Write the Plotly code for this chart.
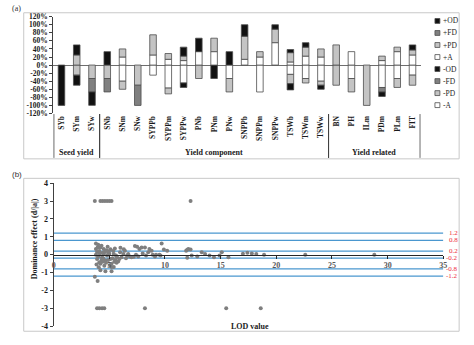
import plotly.graph_objects as go

# ---------------- data: panel (a) gene-action share per trait (%) ----------------
categories = ["SYb", "SYm", "SYw", "SNb", "SNm", "SNw", "SYPPb", "SYPPm", "SYPPw",
              "PNb", "PNm", "PNw", "SNPPb", "SNPPm", "SNPPw", "TSWb", "TSWm", "TSWw",
              "BN", "PH", "ILm", "PDm", "PLm", "FIT"]

pos_A = [0, 0, 0, 0, 20, 0, 25, 14.3, 11.1, 33.3, 33.3, 0, 14.3, 20, 55.6, 7.7, 22.2, 20,
         0, 33.3, 0, 11.1, 33.3, 25]
pos_PD = [0, 25, 0, 0, 20, 0, 50, 14.3, 11.1, 0, 33.3, 0, 57.1, 13.3, 33.3, 23.1, 22.2, 20,
          50, 0, 0, 11.1, 11.1, 12.5]
pos_FD = [0] * 24
pos_OD = [0, 25, 0, 33.3, 0, 0, 0, 0, 22.2, 33.3, 0, 33.3, 28.6, 0, 11.1, 7.7, 11.1, 0,
          0, 0, 0, 0, 0, 12.5]
neg_A = [0, 0, 0, 0, -40, 0, -25, -57.1, -44.4, 0, 0, -33.3, 0, -66.7, 0, -23.1, -33.3, -40,
         0, -33.3, 0, -55.6, -33.3, -25]
neg_PD = [0, -25, -33.3, -33.3, -20, -50, 0, -14.3, 0, -33.3, 0, -33.3, 0, 0, 0, -23.1, -11.1, -10,
          -50, -33.3, -100, 0, -22.2, -25]
neg_FD = [0, 0, -33.3, -33.3, 0, -50, 0, 0, 0, 0, 0, 0, 0, 0, 0, 0, 0, 0,
          0, 0, 0, -11.1, 0, 0]
neg_OD = [-100, -25, -33.3, 0, 0, 0, 0, 0, -11.1, 0, -33.3, 0, 0, 0, 0, -15.4, 0, -10,
          0, 0, 0, -11.1, 0, 0]

groups = ["Seed yield", "Yield component", "Yield related"]
group_bounds = [(-0.5, 2.5), (2.5, 17.5), (17.5, 23.5)]
pct_ticks = [120, 100, 80, 60, 40, 20, 0, -20, -40, -60, -80, -100, -120]

# ---------------- data: panel (b) dominance effect vs LOD ----------------
lod = [3.7, 4.2, 4.4, 4.6, 4.8, 5.0, 5.2, 12.3,
       3.9, 4.1, 4.35, 4.55, 8.2, 15.5, 18.6,
       3.7, 3.95,
       3.8, 4.0, 3.8, 4.2, 4.5, 4.85, 3.8, 3.9, 4.1, 4.2, 4.35, 4.5, 4.65, 4.8, 4.95, 5.1,
       5.2, 5.4, 5.5, 5.7, 5.8, 4.2, 4.65, 5.2, 5.2, 5.4, 5.97, 6.1, 6.26, 6.4, 6.3, 6.6,
       6.7, 6.85, 7.0,
       3.9, 4.0, 4.1, 4.3, 4.4, 4.45, 4.6, 4.7, 4.75, 4.9, 5.0, 5.05, 5.3, 5.35, 5.6, 5.65,
       5.9, 6.0, 4.3, 4.55, 3.85, 4.05, 5.55, 6.5, 4.15, 4.9, 5.1, 5.45, 4.4, 3.95,
       7.3, 7.5, 7.7, 7.9, 8.0, 8.2, 7.4, 7.6, 8.5, 8.6, 8.8, 8.9, 9.1, 9.2, 9.5, 9.7, 9.6,
       9.9, 10.2, 7.2, 8.3,
       11.9, 12.0, 12.1, 12.3, 12.0, 12.4, 12.9, 13.3, 13.6, 14.0, 14.4, 14.9, 15.1, 15.7,
       17.0, 17.4, 17.8, 18.2, 18.9, 22.6, 28.8]
dom = [3, 3, 3, 3, 3, 3, 3, 3,
       -3, -3, -3, -3, -3, -3, -3,
       -1.24, -1.47,
       0.62, 0.55, 0.31, 0.40, 0.31, 0.44, 0.0, -0.24, -0.42, -0.51, -0.15, 0.04, -0.33, -0.05,
       0.18, -0.24, -0.51, 0.04, 0.35, -0.15, -0.38, -0.87, -0.93, -0.93, -0.69, -0.69, 0.13,
       -0.15, 0.04, 0.22, 0.30, -0.05, 0.04, -0.10, -0.15,
       0.15, -0.10, 0.20, -0.30, 0.10, -0.20, 0.15, -0.45, 0.25, -0.30, 0.05, -0.60, -0.20,
       0.20, -0.05, -0.45, -0.25, 0.38, 0.50, -0.62, -0.55, -0.70, -0.30, -0.20, 0.05, 0.10,
       0.30, -0.40, -0.40, 0.40,
       0.49, 0.44, 0.31, 0.40, 0.07, 0.40, 0.0, -0.10, 0.13, 0.31, 0.22, 0.0, -0.10, 0.0, 0.0,
       0.62, -0.05, 0.29, 0.22, -0.12, -0.05,
       0.22, 0.27, 0.31, 0.29, -0.18, -0.05, -0.10, 0.13, 0.04, -0.05, -0.15, -0.05, 0.13, -0.15,
       0.05, 0.10, 0.06, 0.04, 0.0, 0.0, 0.0]
thresholds = [1.2, 0.8, 0.2, -0.2, -0.8, -1.2]
dom_ticks = [4, 3, 2, 1, 0, -1, -2, -3, -4]
lod_ticks = [0, 5, 10, 15, 20, 25, 30, 35]

# ---------------- styling ----------------
W, H = 474, 345
SERIF = "Liberation Serif"
SANS = "Liberation Sans"
BLACK, DARK, LIGHT, WHITE = "#111111", "#808080", "#c4c4c4", "#ffffff"
OUTLINE = "#4d4d4d"
BLUE = "#4a97cf"
RED = "#ee2a3c"


def px(x):
    return x / W


def py(y):
    return 1 - y / H


fig = go.Figure()

# stacked bars: negatives grow down from zero, positives grow up
series = [("-A", neg_A, WHITE), ("-PD", neg_PD, LIGHT), ("-FD", neg_FD, DARK), ("-OD", neg_OD, BLACK),
          ("+A", pos_A, WHITE), ("+PD", pos_PD, LIGHT), ("+FD", pos_FD, DARK), ("+OD", pos_OD, BLACK)]
for name, vals, color in series:
    fig.add_trace(go.Bar(
        x=categories, y=[v if v != 0 else None for v in vals], name=name,
        marker=dict(color=color, line=dict(color=OUTLINE, width=0.8)),
        width=0.43, xaxis="x", yaxis="y", showlegend=False))

fig.add_trace(go.Scatter(
    x=lod, y=dom, mode="markers", xaxis="x2", yaxis="y2", showlegend=False,
    marker=dict(size=4, color="#7f7f7f", line=dict(width=0))))

shapes = []
annotations = []

# panel frames
shapes.append(dict(type="rect", xref="paper", yref="paper", x0=px(22), x1=px(463), y0=py(159), y1=py(9),
                   line=dict(color="#c8c8c8", width=1)))
shapes.append(dict(type="rect", xref="paper", yref="paper", x0=px(22), x1=px(463), y0=py(336), y1=py(179),
                   line=dict(color="#c8c8c8", width=1)))

# group separators and names under the category labels
for i, (g, (a, b)) in enumerate(zip(groups, group_bounds)):
    for xv in (a, b):
        shapes.append(dict(type="line", xref="x", yref="paper", x0=xv, x1=xv, y0=py(158), y1=py(113),
                           line=dict(color="#404040", width=1)))
    annotations.append(dict(x=(a + b) / 2, y=py(152), xref="x", yref="paper", text=g, showarrow=False,
                            font=dict(family=SERIF, size=8, color="#1a1a1a", weight="bold"),
                            xanchor="center", yanchor="middle"))

# legend for the gene-action classes
legend_items = [("+OD", BLACK), ("+FD", DARK), ("+PD", LIGHT), ("+A", WHITE),
                ("-OD", BLACK), ("-FD", DARK), ("-PD", LIGHT), ("-A", WHITE)]
for k, (lab, col) in enumerate(legend_items):
    yc = 17.4 + k * 12.35
    shapes.append(dict(type="rect", xref="paper", yref="paper", x0=px(438.5), x1=px(443.5),
                       y0=py(yc + 2.5), y1=py(yc - 2.5), fillcolor=col,
                       line=dict(color=OUTLINE, width=0.8)))
    annotations.append(dict(x=px(444.5), y=py(yc), xref="paper", yref="paper", text=lab, showarrow=False,
                            font=dict(family=SERIF, size=7.5, color="#262626"),
                            xanchor="left", yanchor="middle"))

# reference lines in panel (b)
for t in thresholds:
    shapes.append(dict(type="line", xref="x2", yref="y2", x0=0, x1=35, y0=t, y1=t,
                       line=dict(color=BLUE, width=1.3), layer="below"))
    annotations.append(dict(x=px(462.5), y=t, xref="paper", yref="y2", text=f"{t:g}", showarrow=False,
                            font=dict(family=SERIF, size=7, color=RED),
                            xanchor="right", yanchor="middle", borderpad=0))

# panel labels and axis titles
annotations += [
    dict(x=px(8), y=py(5), xref="paper", yref="paper", text="(a)", showarrow=False,
         font=dict(family=SERIF, size=8, color="#333333"), xanchor="left", yanchor="middle"),
    dict(x=px(8), y=py(175), xref="paper", yref="paper", text="(b)", showarrow=False,
         font=dict(family=SANS, size=8, color="#333333"), xanchor="left", yanchor="middle"),
    dict(x=px(33), y=py(241), xref="paper", yref="paper", text="Dominance effect (d/|a|)",
         showarrow=False, textangle=-90,
         font=dict(family=SERIF, size=8, color="#1a1a1a", weight="bold"),
         xanchor="center", yanchor="middle"),
    dict(x=px(251), y=py(331), xref="paper", yref="paper", text="LOD value", showarrow=False,
         font=dict(family=SERIF, size=8, color="#1a1a1a", weight="bold"),
         xanchor="center", yanchor="middle"),
]

tick_font = dict(family=SERIF, size=7.5, color="#1a1a1a", weight="bold")

fig.update_layout(
    width=W, height=H, margin=dict(l=0, r=0, t=0, b=0),
    paper_bgcolor="white", plot_bgcolor="rgba(0,0,0,0)",
    barmode="relative", bargap=0.5, showlegend=False,
    xaxis=dict(domain=[px(52), px(424)], anchor="y", type="category",
               categoryorder="array", categoryarray=categories,
               tickangle=-90, tickfont=tick_font, showline=False, ticks="",
               showgrid=False, zeroline=False),
    yaxis=dict(domain=[py(112.4), py(13)], anchor="x", range=[-120, 120],
               tickvals=pct_ticks, ticktext=[f"{v}%" for v in pct_ticks],
               tickfont=dict(family=SERIF, size=7.5, color="#1a1a1a", weight="bold"),
               showline=True, linecolor="#404040", linewidth=1, ticks="outside", ticklen=3,
               tickcolor="#404040", showgrid=False,
               zeroline=True, zerolinecolor="#6e6e6e", zerolinewidth=1),
    xaxis2=dict(domain=[px(52.3), px(447)], anchor="free", position=py(257.3), range=[0, 35],
                tickvals=lod_ticks, ticktext=[str(v) for v in lod_ticks],
                tickfont=dict(family=SERIF, size=8, color="#595959", weight="bold"),
                showline=True, linecolor="#262626", linewidth=1, ticks="outside", ticklen=3,
                tickcolor="#262626", showgrid=False, zeroline=False),
    yaxis2=dict(domain=[py(330.7), py(184)], anchor="x2", range=[-4, 4],
                tickvals=dom_ticks, ticktext=[str(v) for v in dom_ticks],
                tickfont=dict(family=SERIF, size=8, color="#1a1a1a", weight="bold"),
                showline=True, linecolor="#404040", linewidth=1, ticks="outside", ticklen=3,
                tickcolor="#404040", showgrid=False, zeroline=False),
    shapes=shapes, annotations=annotations,
)

fig.write_html("out.html")
